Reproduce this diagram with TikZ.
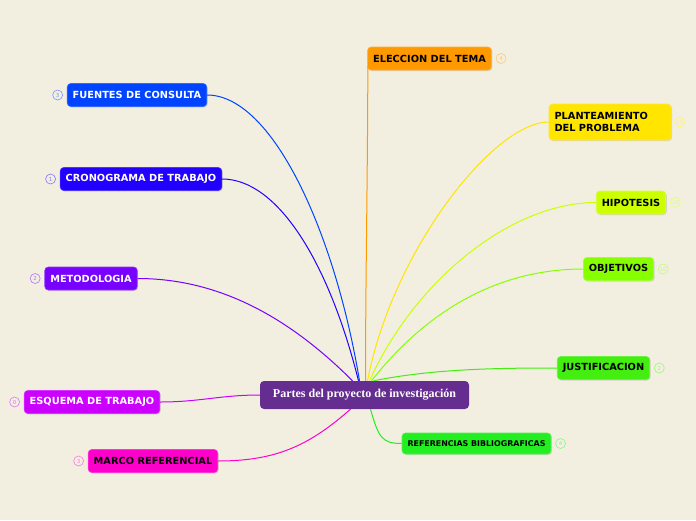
\documentclass[tikz,border=0pt]{standalone}
\usepackage{fontspec}
\setmainfont{Liberation Serif}
\newfontfamily\boxfont{DejaVu Sans}
\usepackage{xcolor}
\usetikzlibrary{positioning,shadows}

\definecolor{paper}{HTML}{F2EFE1}
\definecolor{hubcol}{HTML}{662D91}
\definecolor{orangecol}{HTML}{FF9900}
\definecolor{yellowcol}{HTML}{FFE500}
\definecolor{limecol}{HTML}{CCFF00}
\definecolor{chartcol}{HTML}{88FF00}
\definecolor{greencol}{HTML}{44EE11}
\definecolor{pgreencol}{HTML}{22EE22}
\definecolor{bluecol}{HTML}{0044FF}
\definecolor{indigocol}{HTML}{2200FF}
\definecolor{violetcol}{HTML}{7700FF}
\definecolor{purplecol}{HTML}{CC00FF}
\definecolor{pinkcol}{HTML}{FF00CC}

\begin{document}
\begin{tikzpicture}[
x=1pt,y=1pt,
topic/.style={
rectangle,rounded corners=3.5pt,
fill=#1,draw=#1!80!white,line width=0.6pt,
font=\boxfont\bfseries\fontsize{9.8}{11}\selectfont,
inner xsep=5.5pt,inner ysep=2pt,
minimum height=23pt,
drop shadow={opacity=0.25,shadow xshift=1pt,shadow yshift=-1pt}
},
badge/.style={
circle,draw=#1!55!white,line width=0.6pt,text=#1!55!white,
inner sep=0pt,minimum size=10pt,
font=\boxfont\fontsize{5.5}{6}\selectfont
},
link/.style={draw=#1,line width=1pt}
]

\useasboundingbox[fill=paper] (0,0) rectangle (696,-520);

% central topic
\node[rectangle,rounded corners=4pt,fill=hubcol,text=white,
minimum width=209pt,minimum height=28pt,
font=\bfseries\fontsize{12}{14}\selectfont] (hub) at (364.5,-395)
{Partes del proyecto de investigación};

% right side
\node[topic=orangecol] (tema) at (429.5,-58.5) {ELECCION DEL TEMA};
\node[topic=yellowcol,align=left,minimum height=36pt,text width=111pt,font=\boxfont\bfseries\fontsize{9.8}{12}\selectfont] (problema) at (610,-122)
{PLANTEAMIENTO\\DEL PROBLEMA};
\node[topic=limecol] (hipotesis) at (631,-202.5) {HIPOTESIS};
\node[topic=chartcol] (objetivos) at (618.5,-269) {OBJETIVOS};
\node[topic=greencol] (justif) at (603.5,-368) {JUSTIFICACION};
\node[topic=pgreencol,font=\boxfont\bfseries\fontsize{7.9}{9}\selectfont,minimum height=21pt] (biblio) at (476.5,-443.5)
{REFERENCIAS BIBLIOGRAFICAS};

% left side
\node[topic=bluecol,text=white] (fuentes) at (137,-95) {FUENTES DE CONSULTA};
\node[topic=indigocol,text=white] (crono) at (141,-179) {CRONOGRAMA DE TRABAJO};
\node[topic=violetcol,text=white] (metodo) at (91,-278.5) {METODOLOGIA};
\node[topic=purplecol,text=white] (esquema) at (92,-402) {ESQUEMA DE TRABAJO};
\node[topic=pinkcol] (marco) at (153,-461) {MARCO REFERENCIAL};

% badges
\node[badge=orangecol,right=4pt of tema] (ntema) {4};
\node[badge=yellowcol,right=3pt of problema] (nproblema) {10};
\node[badge=limecol,right=4pt of hipotesis] (nhipotesis) {18};
\node[badge=chartcol,right=4pt of objetivos] (nobjetivos) {10};
\node[badge=greencol,right=4pt of justif] (njustif) {2};
\node[badge=pgreencol,right=4pt of biblio] (nbiblio) {4};
\node[badge=bluecol,left=4pt of fuentes] (nfuentes) {3};
\node[badge=indigocol,left=4pt of crono] (ncrono) {1};
\node[badge=violetcol,left=4pt of metodo] (nmetodo) {2};
\node[badge=purplecol,left=4pt of esquema] (nesquema) {0};
\node[badge=pinkcol,left=4pt of marco] (nmarco) {3};

% connectors
\begin{scope}[on background layer/.try]
\draw[link=orangecol] ([xshift=1pt]hub.north) .. controls +(0,100) and +(0,-100) .. ([xshift=0.5pt,yshift=4pt]tema.south west);
\draw[link=yellowcol] ([xshift=3pt]hub.north) .. controls +(25,130) and +(-55,0) .. (problema.west);
\draw[link=limecol] ([xshift=5pt]hub.north) .. controls +(45,100) and +(-85,0) .. (hipotesis.west);
\draw[link=chartcol] ([xshift=7pt]hub.north) .. controls +(55,70) and +(-85,0) .. (objetivos.west);
\draw[link=greencol] ([xshift=9pt]hub.north) .. controls +(60,12) and +(-60,0) .. (justif.west);
\draw[link=pgreencol] ([xshift=6pt]hub.south) .. controls +(8,-28) and +(-20,0) .. (biblio.west);
\draw[link=bluecol] ([xshift=-5pt]hub.north) .. controls +(-25,150) and +(65,0) .. (fuentes.east);
\draw[link=indigocol] ([xshift=-6pt]hub.north) .. controls +(-30,120) and +(55,0) .. (crono.east);
\draw[link=violetcol] ([xshift=-12pt]hub.north) .. controls +(-60,60) and +(85,0) .. (metodo.east);
\draw[link=purplecol] (hub.west) .. controls +(-40,0) and +(40,0) .. (esquema.east);
\draw[link=pinkcol] ([xshift=-14pt]hub.south) .. controls +(-40,-35) and +(60,0) .. (marco.east);
\end{scope}

\end{tikzpicture}
\end{document}
